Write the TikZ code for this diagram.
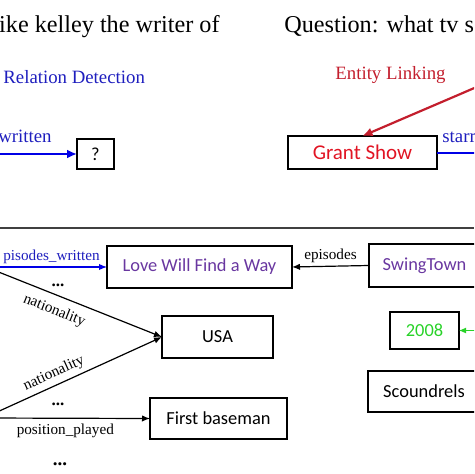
\documentclass[tikz,border=0pt]{standalone}
\usepackage{fontspec}
\setmainfont{Liberation Serif}
\newfontfamily\boxfont{Carlito}
\usetikzlibrary{arrows.meta,positioning}
\definecolor{reldet}{RGB}{30,30,190}
\definecolor{relblue}{RGB}{0,0,230}
\definecolor{entred}{RGB}{195,30,45}
\definecolor{namered}{RGB}{225,20,35}
\definecolor{entpurple}{RGB}{105,55,160}
\definecolor{yeargreen}{RGB}{40,210,40}
\tikzset{
  entity/.style={draw=black, line width=0.8pt, inner sep=0pt, outer sep=0pt,
    font=\boxfont\fontsize{9.2}{11}\selectfont},
  question/.style={inner sep=0pt, font=\fontsize{12.1}{14}\selectfont},
  stage/.style={inner sep=0pt, font=\fontsize{9.4}{11}\selectfont},
  rel/.style={inner sep=1.5pt, font=\fontsize{7.6}{9}\selectfont},
  moredots/.style={inner sep=0pt, text height=2pt, text depth=0pt,
    font=\bfseries\fontsize{8.5}{9}\selectfont},
  arr/.style={-{Latex[length=4pt,width=3.2pt]}, line width=0.6pt},
  barr/.style={arr, draw=relblue},
  bigbarr/.style={-{Latex[length=5pt,width=4.5pt]}, line width=1.1pt, draw=relblue},
  redarr/.style={-{Latex[length=5pt,width=4.5pt]}, line width=1.1pt, draw=entred},
  garr/.style={-{Latex[length=3.5pt,width=3pt]}, line width=0.5pt, draw=yeargreen}
}
\begin{document}
\begin{tikzpicture}[x=0.5pt, y=-0.5pt]
  \useasboundingbox (0,0) rectangle (474,474);
  \clip (0,0) rectangle (474,474);

  % upper part: the two questions
  \node[question, anchor=base east] (q1) at (220,33) {ike kelley the writer of};
  \node[question, anchor=base west] (q2) at (284,33) {Question: what tv s};
  \node[stage, anchor=base west, text=reldet] (rd) at (3,84) {Relation Detection};
  \node[stage, anchor=base west, text=entred] (el) at (335,80) {Entity Linking};

  \node[entity, minimum width=74.5pt, minimum height=16.5pt, text=namered,
    font=\boxfont\fontsize{10.5}{12}\selectfont] (gs) at (362.5,152.5) {Grant Show};
  \node[entity, minimum width=18.5pt, minimum height=15pt] (ans) at (95.5,154) {?};

  \coordinate (elsrc) at (500,77);
  \coordinate (starend) at (490,153);
  \coordinate (wrsrc) at (-10,154);

  \draw[redarr] (elsrc) -- (gs.north);
  \draw[line width=1.1pt, relblue] (gs.east |- starend) -- (starend);
  \draw[bigbarr] (wrsrc) -- (ans.west);
  \node[rel, anchor=base west, inner sep=0pt, text=reldet, font=\fontsize{9.4}{11}\selectfont] (starr) at (442,143) {starr};
  \node[rel, anchor=base east, inner sep=0pt, text=reldet, font=\fontsize{9.4}{11}\selectfont] (wr) at (52,143) {written};

  \draw[line width=1pt, black!75] (0,228) -- (474,228);

  % lower part: the knowledge base
  \node[entity, minimum width=92.5pt, minimum height=21pt, text=entpurple] (love) at (199.5,267) {Love Will Find a Way};
  \node[entity, minimum width=55.5pt, minimum height=21.5pt, text=entpurple] (swing) at (424.5,265.5) {SwingTown};
  \node[entity, minimum width=55.5pt, minimum height=21pt] (usa) at (217.5,337) {USA};
  \node[entity, minimum width=68.5pt, minimum height=20.5pt] (fb) at (218.5,418.5) {First baseman};
  \node[entity, minimum width=34.5pt, minimum height=18.5pt, text=yeargreen] (year) at (424.5,330.5) {2008};
  \node[entity, minimum width=56pt, minimum height=20.5pt] (scound) at (424,391.5) {Scoundrels};

  \coordinate (src1) at (-14,267);
  \coordinate (src2) at (-16,418);
  \coordinate (yearsrc) at (490,330.5);

  \draw[barr] (src1) -- (love.west);
  \node[rel, anchor=base east, inner sep=0pt, text=reldet] (ew) at (100,261) {pisodes\_written};
  \draw[arr] (swing.west) -- node[rel, above] (ep) {episodes} (love.east);
  \draw[arr] (src1) -- node[rel, pos=0.42, sloped, below=2.5pt] (nat1) {nationality} (usa.west);
  \draw[arr] (src2) -- node[rel, pos=0.42, sloped, above=0.5pt] (nat2) {nationality} (usa.west);
  \draw[arr] (src2) -- node[rel, pos=0.49, below=1pt] (pp) {position\_played} (fb.west);
  \draw[garr] (yearsrc) -- (year.east);

  \node[moredots] (d1) at (58,284) {...};
  \node[moredots] (d2) at (58,403) {...};
  \node[moredots, font=\bfseries\fontsize{9.5}{10}\selectfont] (d3) at (60,463) {...};
\end{tikzpicture}
\end{document}
